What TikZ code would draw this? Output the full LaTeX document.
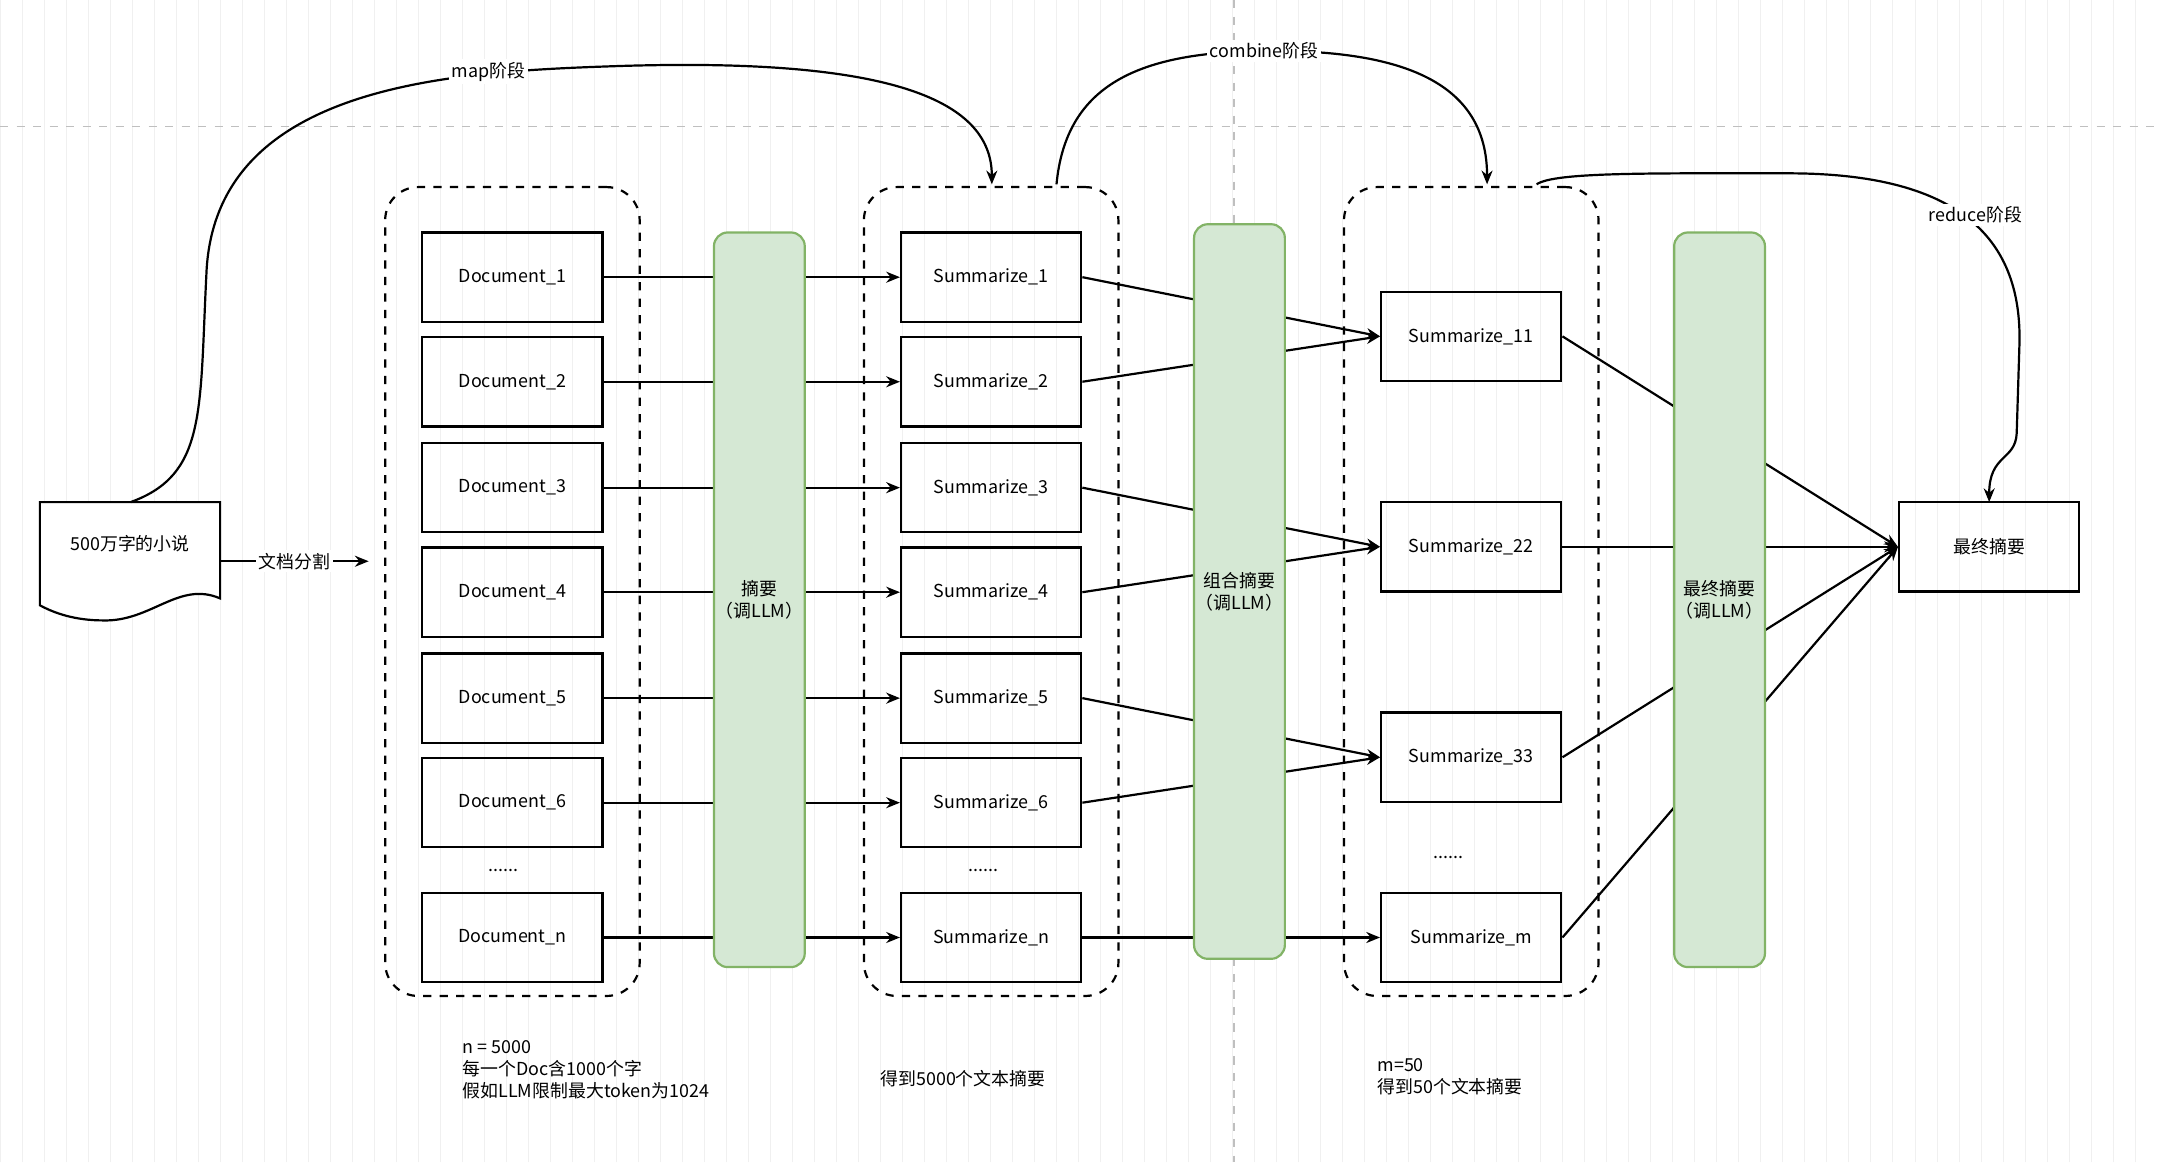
\documentclass[tikz,border=0pt]{standalone}
\usepackage{fontspec}
\setmainfont{Noto Sans CJK SC}
\usetikzlibrary{arrows.meta}
\definecolor{gfill}{HTML}{D5E8D4}
\definecolor{gline}{HTML}{82B366}
\begin{document}
\begin{tikzpicture}[x=0.5pt,y=-0.5pt,font=\fontsize{6.5}{8}\selectfont,
  box/.style={draw,thick,minimum width=65.5pt,minimum height=32.5pt,inner sep=0pt},
  cont/.style={draw,thick,dashed,rounded corners=12pt,minimum width=92.5pt,minimum height=294pt},
  bar/.style={draw=gline,fill=gfill,thick,rounded corners=5pt,minimum width=33pt,minimum height=267pt,inner sep=0pt,align=center},
  arr/.style={thick,-{Stealth[length=5pt,width=4pt]}},
  lbl/.style={fill=white,inner sep=1pt}]
\useasboundingbox (0,0) rectangle (1568,845);
\draw[black!6,line width=0.3pt] (0,0) grid[step=16] (1568,845);
\draw[black!25,dashed,line width=0.4pt] (0,92) -- (1568,92);
\draw[black!25,dashed,line width=0.4pt] (897,0) -- (897,845);
% containers
\node[cont] (c1) at (372.5,430) {};
\node[cont] (c2) at (720.5,430) {};
\node[cont] (c3) at (1069.5,430) {};
% doc shape
\draw[thick,fill=white] (29,365) -- (160,365) -- (160,435) .. controls (130,422) and (110,452) .. (75,451) .. controls (55,451) and (40,446) .. (29,440) -- cycle;
\node (novel) at (94.5,395) {500万字的小说};
\coordinate (split) at (268,408);
\draw[arr] (160,408) -- node[lbl]{文档分割} (split);
% documents and summaries
\foreach \i/\y in {1/201.5,2/277.5,3/354.5,4/430.5,5/507.5,6/583.5,n/681.5}{
  \node[box] (d\i) at (372.5,\y) {Document\_\i};
  \node[box] (s\i) at (720.5,\y) {Summarize\_\i};
}
\node at (366,633) {......};
\node at (715,633) {......};
\node[box] (s11) at (1069.5,244.5) {Summarize\_11};
\node[box] (s22) at (1069.5,397.5) {Summarize\_22};
\node[box] (s33) at (1069.5,550.5) {Summarize\_33};
\node[box] (sm) at (1069.5,681.5) {Summarize\_m};
\node at (1053,623) {......};
\node[box] (fin) at (1446,397.5) {最终摘要};
% edges
\foreach \i in {1,2,3,4,5,6,n}{\draw[arr] (d\i) -- (s\i);}
\draw[arr] (s1.east) -- (s11.west);
\draw[arr] (s2.east) -- (s11.west);
\draw[arr] (s3.east) -- (s22.west);
\draw[arr] (s4.east) -- (s22.west);
\draw[arr] (s5.east) -- (s33.west);
\draw[arr] (s6.east) -- (s33.west);
\draw[arr] (sn) -- (sm);
\foreach \s in {s11,s22,s33,sm}{\draw[arr] (\s.east) -- (fin.west);}
% bars
\node[bar] (b1) at (552,436) {摘要\\（调LLM）};
\node[bar] (b2) at (901,430) {组合摘要\\（调LLM）};
\node[bar] (b3) at (1250,436) {最终摘要\\（调LLM）};
% curves
\draw[arr] (95,365) .. controls (150,345) and (145,300) .. (150,200) .. controls (155,60) and (330,52) .. (450,48) .. controls (640,42) and (721,70) .. (721,134);
\node[lbl] at (355,52) {map阶段};
\draw[arr] (768,134) .. controls (775,60) and (830,38) .. (919,37) .. controls (1020,36) and (1081,60) .. (1081,134);
\node[lbl] at (919,37) {combine阶段};
\draw[arr] (1117,134) .. controls (1130,125) and (1200,126) .. (1300,126) .. controls (1420,126) and (1470,170) .. (1468,250) -- (1466,315) .. controls (1465,335) and (1446,330) .. (1446,365);
\node[lbl] at (1436,156) {reduce阶段};
% notes
\node[align=left,anchor=north west,inner sep=0pt] (note1) at (336,756) {n = 5000\\每一个Doc含1000个字\\假如LLM限制最大token为1024};
\node (note2) at (700,784) {得到5000个文本摘要};
\node[align=left,anchor=north west,inner sep=0pt] (note3) at (1001,769) {m=50\\得到50个文本摘要};
\end{tikzpicture}
\end{document}
